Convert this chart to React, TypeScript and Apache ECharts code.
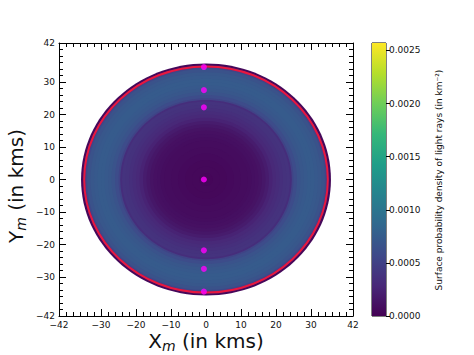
import React, { useEffect, useRef } from "react";
import * as echarts from "echarts";

// ---- data ----
const X_MAJOR = [-42, -30, -20, -10, 0, 10, 20, 30, 42];
const Y_MAJOR = [-42, -30, -20, -10, 0, 10, 20, 30, 42];
const CB_TICKS = [0, 0.0005, 0.001, 0.0015, 0.002, 0.0025];
const CB_MAX = 0.00257;

// outer radius (km) of each ring, and the density inside that ring (km^-2)
const RING_RADII = [35.7, 35.1, 34.5, 34, 33, 32, 31, 30, 29, 28, 27, 26, 25, 24.5, 24, 23, 22, 21, 20, 19, 18, 17, 16, 15, 14, 13, 12, 10, 8, 6, 4, 2];
const RING_VALUES = [0.00005, 0.0003, 0.00055, 0.00065, 0.0007, 0.00072, 0.00074, 0.00074, 0.00072, 0.0007, 0.00066, 0.0006, 0.00052, 0.00033, 0.00038, 0.00037, 0.00035, 0.00032, 0.00029, 0.00025, 0.0002, 0.00016, 0.00013, 0.00011, 0.0001, 0.00009, 0.00008, 0.00007, 0.00006, 0.00005, 0.00005, 0.00004];

const RED_RADIUS = 34.8;
const POINTS_X = [-0.6, -0.6, -0.6, -0.6, -0.6, -0.6, -0.6];
const POINTS_Y = [34.6, 27.5, 22.2, 0, -21.8, -27.5, -34.5];

const VIRIDIS = ["#440154", "#482878", "#3e4989", "#31688e", "#26828e", "#1f9e89", "#35b779", "#6ece58", "#b5de2b", "#fde725"];

const FONT = "DejaVu Sans";
const fmtTick = (v: number) => (v < 0 ? "\u2212" + Math.abs(v) : String(v));

export default function App() {
  const ref = useRef<HTMLDivElement>(null);
  useEffect(() => {
    const chart = echarts.init(ref.current!, undefined, { renderer: "svg" });
    const G = { left: 59, top: 43, width: 294, height: 273 };
    const labelStyle = { fontFamily: FONT, fontSize: 9, color: "#111" };
    const mkAxis = (pos: string, major: boolean, labels: boolean, majors: number[]) => ({
      gridIndex: 0,
      type: "value",
      position: pos,
      min: -42,
      max: 42,
      interval: 2,
      axisLine: { show: !major, onZero: false, lineStyle: { color: "#000", width: 1 } },
      axisTick: major
        ? { show: true, inside: true, length: 7, customValues: majors, lineStyle: { color: "#000", width: 1 } }
        : { show: true, inside: true, length: 4, lineStyle: { color: "#000", width: 1 } },
      axisLabel: labels
        ? { show: true, customValues: majors, formatter: fmtTick, margin: 4, ...labelStyle }
        : { show: false },
      splitLine: { show: false },
    });
    const stops = VIRIDIS.map((c, i) => ({ offset: i / (VIRIDIS.length - 1), color: c }));
    const richTitle = {
      a: { fontFamily: FONT, fontSize: 20, lineHeight: 20, verticalAlign: "top", fill: "#111" },
      s: { fontFamily: FONT, fontSize: 14, lineHeight: 14, fontStyle: "italic", verticalAlign: "top", padding: [8, 0, 0, 0], fill: "#111" },
    };

    chart.setOption({
      animation: false,
      grid: [
        { ...G, containLabel: false },
        { left: 372, top: 43, width: 14, height: 273, show: true, borderColor: "#000", borderWidth: 1, backgroundColor: "transparent" },
      ],
      xAxis: [
        mkAxis("bottom", false, true, X_MAJOR),
        mkAxis("bottom", true, false, X_MAJOR),
        mkAxis("top", false, false, X_MAJOR),
        mkAxis("top", true, false, X_MAJOR),
        { gridIndex: 1, type: "value", min: 0, max: 1, show: false },
      ],
      yAxis: [
        mkAxis("left", false, true, Y_MAJOR),
        mkAxis("left", true, false, Y_MAJOR),
        mkAxis("right", false, false, Y_MAJOR),
        mkAxis("right", true, false, Y_MAJOR),
        {
          gridIndex: 1,
          type: "value",
          position: "right",
          min: 0,
          max: CB_MAX,
          axisLine: { show: false, onZero: false },
          axisTick: { show: true, inside: false, length: 4, customValues: CB_TICKS, lineStyle: { color: "#000" } },
          axisLabel: { show: true, customValues: CB_TICKS, formatter: (v: number) => v.toFixed(4), margin: 3, ...labelStyle },
          splitLine: { show: false },
        },
      ],
      visualMap: {
        type: "continuous",
        show: false,
        min: 0,
        max: CB_MAX,
        dimension: 1,
        seriesIndex: 0,
        inRange: { color: VIRIDIS },
      },
      series: [
        {
          type: "custom",
          xAxisIndex: 0,
          yAxisIndex: 0,
          z: 1,
          data: RING_RADII.map((r, i) => [r, RING_VALUES[i]]),
          renderItem: (params: any, api: any) => {
            const r = api.value(0);
            const c = api.coord([0, 0]);
            const sx = api.size([1, 0])[0];
            const sy = api.size([0, 1])[1];
            return {
              type: "ellipse",
              shape: { cx: c[0], cy: c[1], rx: r * sx, ry: r * sy },
              style: { fill: api.visual("color"), stroke: null },
            };
          },
        },
        {
          type: "custom",
          xAxisIndex: 0,
          yAxisIndex: 0,
          z: 2,
          data: [[RED_RADIUS, 0]],
          renderItem: (params: any, api: any) => {
            const r = api.value(0);
            const c = api.coord([0, 0]);
            const sx = api.size([1, 0])[0];
            const sy = api.size([0, 1])[1];
            return {
              type: "ellipse",
              shape: { cx: c[0], cy: c[1], rx: r * sx, ry: r * sy },
              style: { fill: "none", stroke: "#e8173f", lineWidth: 2 },
            };
          },
        },
        {
          type: "scatter",
          xAxisIndex: 0,
          yAxisIndex: 0,
          z: 3,
          symbol: "circle",
          symbolSize: 6,
          itemStyle: { color: "#ff00ff" },
          data: POINTS_X.map((x, i) => [x, POINTS_Y[i]]),
        },
        {
          type: "custom",
          xAxisIndex: 4,
          yAxisIndex: 4,
          z: 1,
          data: [[0, 0]],
          renderItem: (params: any, api: any) => {
            const p0 = api.coord([0, 0]);
            const p1 = api.coord([1, CB_MAX]);
            return {
              type: "rect",
              shape: { x: p0[0], y: p1[1], width: p1[0] - p0[0], height: p0[1] - p1[1] },
              style: { fill: new echarts.graphic.LinearGradient(0, 1, 0, 0, stops), stroke: null },
            };
          },
        },
      ],
      graphic: [
        {
          type: "text",
          x: 206,
          y: 341,
          z: 10,
          style: { text: "{a|X}{s|m}{a| (in kms)}", align: "center", verticalAlign: "middle", rich: richTitle },
        },
        {
          type: "text",
          x: 16,
          y: 186,
          rotation: Math.PI / 2,
          z: 10,
          style: { text: "{a|Y}{s|m}{a| (in kms)}", align: "center", verticalAlign: "middle", rich: richTitle },
        },
        {
          type: "text",
          x: 439,
          y: 180,
          rotation: Math.PI / 2,
          z: 10,
          style: {
            text: "Surface probability density of light rays (in km\u207B\u00B2)",
            fontFamily: FONT,
            fontSize: 9,
            fill: "#111",
            align: "center",
            verticalAlign: "middle",
          },
        },
      ],
    });
    return () => chart.dispose();
  }, []);
  return <div ref={ref} style={{ width: 474, height: 355, position: "absolute", left: 0, top: 0 }} />;
}
